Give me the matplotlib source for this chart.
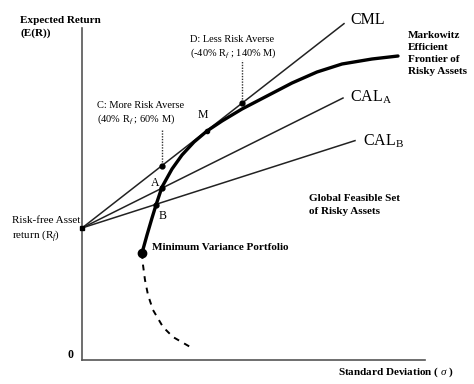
import matplotlib
matplotlib.use("Agg")
import matplotlib.pyplot as plt
import numpy as np

plt.rcParams['font.family'] = ['Liberation Serif', 'DejaVu Serif']
plt.rcParams['mathtext.fontset'] = 'custom'
plt.rcParams['mathtext.rm'] = 'Liberation Serif'
plt.rcParams['mathtext.it'] = 'Liberation Serif:italic'
plt.rcParams['mathtext.bf'] = 'Liberation Serif:bold'

# ---- data (sigma, expected return) in arbitrary chart units ----
rf = 132
cml_slope = 0.78
cal_a_slope = 0.498
cal_b_slope = 0.32
cml_end_x = 262
cal_a_end_x = 261
cal_b_end_x = 273

frontier_x = [60, 65, 70, 74, 80, 90, 100, 112, 125, 140, 160, 185, 210, 235, 260, 290, 316]
frontier_y = [107, 125, 142, 155, 173, 191, 205, 218, 229, 239, 251, 264, 277, 288, 296, 301, 304]

inefficient_x = [60, 61, 63, 66, 71, 81, 91, 110]
inefficient_y = [107, 95, 80, 65, 50, 33, 23, 12]

minvar = (60, 107)
pt_A = (80, 172)
pt_B = (74, 155)
pt_C = (80, 194)
pt_D = (160, 257)
pt_M = (125, 229)

x_axis_len = 343
y_axis_len = 332

fig = plt.figure(figsize=(4.74, 3.84), dpi=100)
ax = fig.add_axes([0, 0, 1, 1])
ax.set_xlim(-82, 392)
ax.set_ylim(-24, 360)
ax.axis('off')

# axes
ax.plot([0, 0], [0, y_axis_len], color='#555555', lw=1.2)
ax.plot([0, x_axis_len], [0, 0], color='#555555', lw=1.2)

# lines from Rf
for slope, xe in [(cml_slope, cml_end_x), (cal_a_slope, cal_a_end_x), (cal_b_slope, cal_b_end_x)]:
    ax.plot([0, xe], [rf, rf + slope * xe], color='#222222', lw=1.1)

# frontier
ax.plot(frontier_x, frontier_y, color='black', lw=2.4, solid_joinstyle='round', solid_capstyle='round')
ax.plot(inefficient_x, inefficient_y, color='black', lw=1.4, linestyle=(0, (3, 3)))

# points
ax.plot(*minvar, 'o', color='black', ms=6)
ax.plot(0, rf, 's', color='black', ms=3)
for p in [pt_A, pt_B, pt_C, pt_D]:
    ax.plot(*p, 'o', color='black', ms=3.5)
ax.plot(*pt_M, 'o', color='black', ms=3)

# dotted pointers
ax.plot([pt_C[0], pt_C[0]], [pt_C[1] + 4, 230], color='#333333', lw=1, linestyle=(0, (1, 1)))
ax.plot([pt_D[0], pt_D[0]], [pt_D[1] + 4, 300], color='#333333', lw=1, linestyle=(0, (1, 1)))

# texts
ax.text(-62, 344, 'Expected Return\n(E(R))', fontsize=8, fontweight='bold', va='top', ha='left', linespacing=1.45)
ax.text(108, 321, 'D: Less Risk Averse', fontsize=7.5, va='center', ha='left')
ax.text(108, 307, '(-40% R$_f$ ; 140% M)', fontsize=7.5, va='center', ha='left')
ax.text(15, 255, 'C: More Risk Averse', fontsize=7.5, va='center', ha='left')
ax.text(15, 241, '(40% R$_f$ ; 60% M)', fontsize=7.5, va='center', ha='left')
ax.text(121, 245, 'M', fontsize=8.5, va='center', ha='center')
ax.text(73, 177, 'A', fontsize=8.5, va='center', ha='center')
ax.text(81, 144, 'B', fontsize=8.5, va='center', ha='center')
ax.text(268, 340, 'CML', fontsize=11.5, va='center', ha='left')
ax.text(268, 263, 'CAL$_\\mathrm{A}$', fontsize=11.5, va='center', ha='left')
ax.text(281, 219, 'CAL$_\\mathrm{B}$', fontsize=11.5, va='center', ha='left')
ax.text(326, 329, 'Markowitz\nEfficient\nFrontier of\nRisky Assets', fontsize=8, fontweight='bold',
        va='top', ha='left', linespacing=1.45)
ax.text(227, 155, 'Global Feasible Set\nof Risky Assets', fontsize=8, fontweight='bold',
        va='center', ha='left', linespacing=1.55)
ax.text(70, 113, 'Minimum Variance Portfolio', fontsize=8, fontweight='bold', va='center', ha='left')
ax.text(-70, 130, 'Risk-free Asset\nreturn (R$_f$)', fontsize=8, va='center', ha='left', linespacing=1.3)
ax.text(-12, 5, '0', fontsize=8.5, fontweight='bold', va='center', ha='center')
ax.text(256, -12, 'Standard Deviation ( $\\mathit{\\sigma}$ )', fontsize=8, fontweight='bold', va='center', ha='left')

fig.savefig('out.png', dpi=100)
